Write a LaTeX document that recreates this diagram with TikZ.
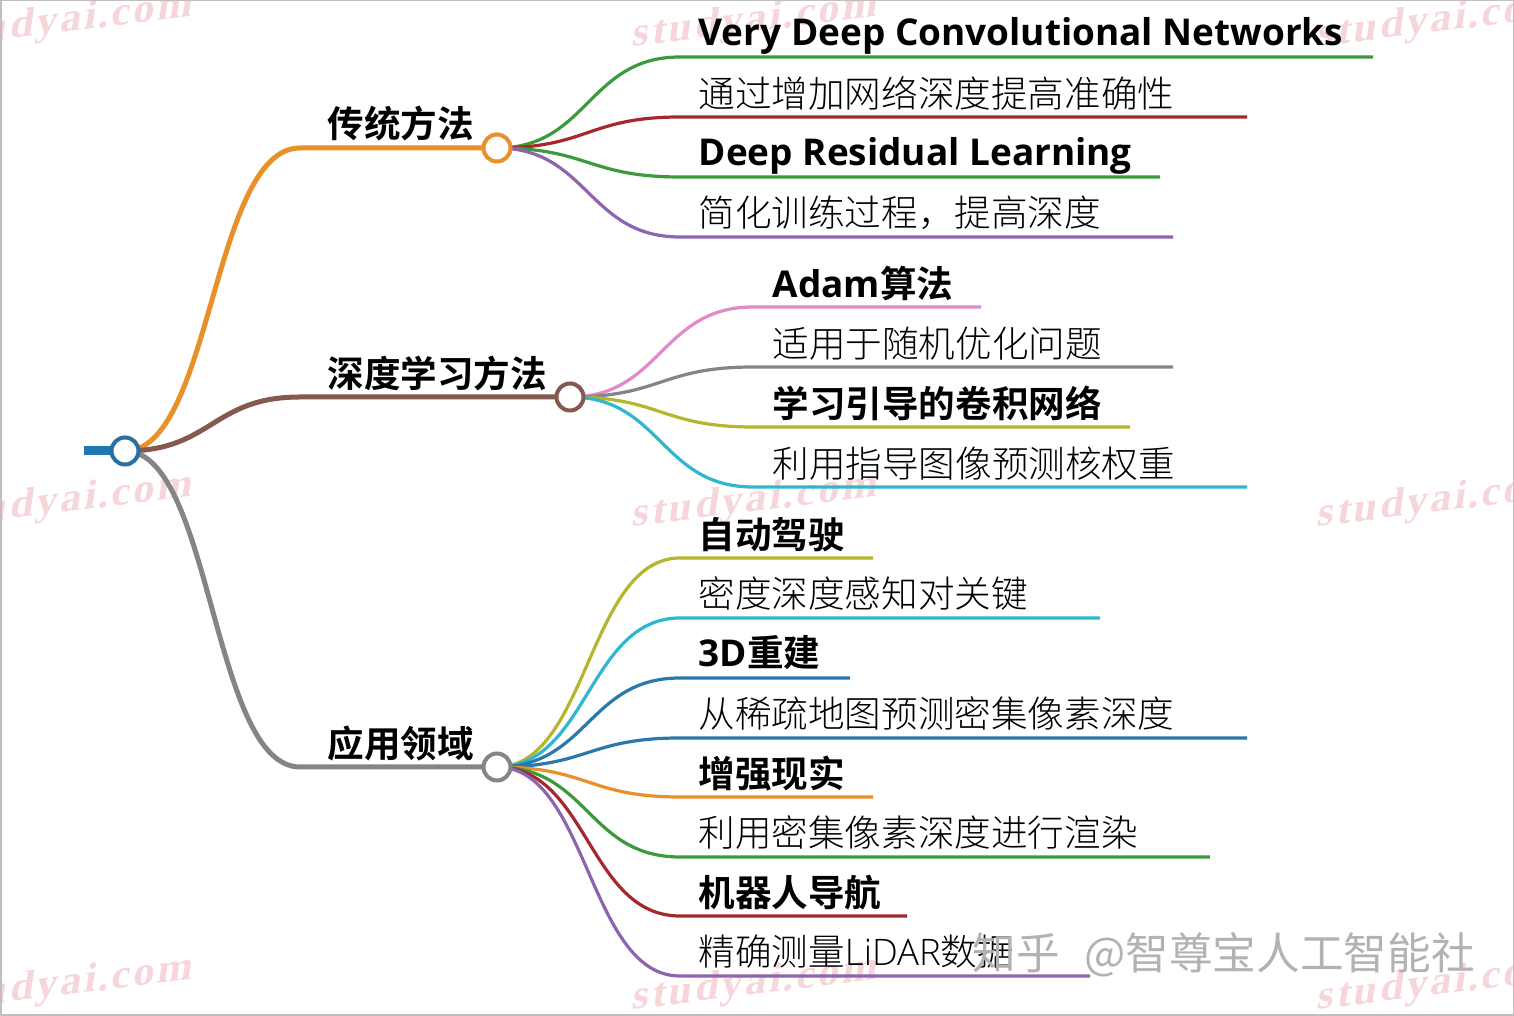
\documentclass[tikz,border=0pt]{standalone}
\usepackage{fontspec}
\setmainfont{Open Sans}
\newfontfamily\cjkfont{Noto Sans CJK SC Light}
\newfontfamily\cjkplain{Noto Sans CJK SC}
\newfontfamily\cjkbold{Noto Sans CJK SC Bold}
\newfontfamily\ltnbold{Open Sans}[UprightFont=* Bold,Scale=1.01]
\newfontfamily\ltnlight{Open Sans}[UprightFont=* Light]
\newfontfamily\wmfont{Liberation Serif}[UprightFont=* Bold,FakeSlant=0.28,FakeStretch=1.05,LetterSpace=7]
\definecolor{mapblue}{HTML}{2A78AC}
\definecolor{rootblue}{HTML}{1F77B4}
\definecolor{ringblue}{HTML}{2A6F9F}
\definecolor{maporange}{HTML}{E8912A}
\definecolor{mapbrown}{HTML}{85594F}
\definecolor{mapgray}{HTML}{858585}
\definecolor{mapgreen}{HTML}{3C9A3C}
\definecolor{mapred}{HTML}{A5282E}
\definecolor{mappurple}{HTML}{8C64B0}
\definecolor{mappink}{HTML}{E08AC8}
\definecolor{mapolive}{HTML}{B5B52E}
\definecolor{mapcyan}{HTML}{2FB7CF}
\definecolor{markpink}{HTML}{F6D6D9}
\pgfdeclarelayer{front}
\pgfsetlayers{main,front}
\tikzset{
    hub/.style={circle,draw,fill=white,line width=0.04cm,minimum size=0.27cm,inner sep=0pt},
    branch/.style={line width=0.05cm},
    twig/.style={line width=0.032cm},
    headtext/.style={anchor=base west,inner sep=0pt,font=\fontsize{10.4pt}{12pt}\cjkbold},
    boldtext/.style={anchor=base west,inner sep=0pt,font=\fontsize{10.4pt}{12pt}\cjkbold},
    thintext/.style={anchor=base west,inner sep=0pt,font=\fontsize{10.4pt}{12pt}\cjkfont},
    markstudy/.style={rotate=7,text=markpink,inner sep=0pt,font=\fontsize{11.5pt}{13pt}\wmfont},
}
\begin{document}
\begin{tikzpicture}[x=0.01cm,y=-0.01cm]
    \clip (0,0) rectangle (1514,1016);
    \fill[white] (0,0) rectangle (1514,1016);

    \node[markstudy] (mark1) at (68,22) {studyai.com};
    \node[markstudy] (mark2) at (753,22) {studyai.com};
    \node[markstudy] (mark3) at (1438,22) {studyai.com};
    \node[markstudy] (mark4) at (68,502) {studyai.com};
    \node[markstudy] (mark5) at (753,502) {studyai.com};
    \node[markstudy] (mark6) at (1438,502) {studyai.com};
    \node[markstudy] (mark7) at (68,985) {studyai.com};
    \node[markstudy] (mark8) at (753,985) {studyai.com};
    \node[markstudy] (mark9) at (1438,985) {studyai.com};

    % root and main branches
    \begin{pgfonlayer}{front}
        \node[hub,draw=ringblue] (root) at (125,451) {};
        \node[hub,draw=maporange] (hubA) at (497,148) {};
        \node[hub,draw=mapbrown] (hubB) at (570,397) {};
        \node[hub,draw=mapgray] (hubC) at (497,767) {};
    \end{pgfonlayer}
    \coordinate (rootend) at (84,451);
    \draw[rootblue,line width=0.09cm] (rootend) -- (root.center);

    \coordinate (bendA) at (300,148);
    \draw[branch,maporange] (root.center) .. controls (212,451) and (212,148) .. (bendA) -- (hubA.center);
    \node[headtext] (headA) at (327,138) {传统方法};

    \coordinate (bendB) at (300,397);
    \draw[branch,mapbrown] (root.center) .. controls (212,451) and (212,397) .. (bendB) -- (hubB.center);
    \node[headtext] (headB) at (327,388) {深度学习方法};

    \coordinate (bendC) at (300,767);
    \draw[branch,mapgray] (root.center) .. controls (212,451) and (212,767) .. (bendC) -- (hubC.center);
    \node[headtext] (headC) at (327,758) {应用领域};

    % first group
    \coordinate (a1s) at (680,57);
    \coordinate (a1e) at (1373,57);
    \draw[twig,mapgreen] (hubA.center) .. controls (588,148) and (588,57) .. (a1s) -- (a1e);
    \node[boldtext] (a1) at (698,46) {\ltnbold Very Deep Convolutional Networks};

    \coordinate (a2s) at (680,117);
    \coordinate (a2e) at (1247,117);
    \draw[twig,mapred] (hubA.center) .. controls (588,148) and (588,117) .. (a2s) -- (a2e);
    \node[thintext] (a2) at (698,108) {通过增加网络深度提高准确性};

    \coordinate (a3s) at (680,177);
    \coordinate (a3e) at (1160,177);
    \draw[twig,mapgreen] (hubA.center) .. controls (588,148) and (588,177) .. (a3s) -- (a3e);
    \node[boldtext] (a3) at (698,166) {\ltnbold Deep Residual Learning};

    \coordinate (a4s) at (680,237);
    \coordinate (a4e) at (1173,237);
    \draw[twig,mappurple] (hubA.center) .. controls (588,148) and (588,237) .. (a4s) -- (a4e);
    \node[thintext] (a4) at (698,227) {简化训练过程，提高深度};

    % second group
    \coordinate (b1s) at (753,307);
    \coordinate (b1e) at (981,307);
    \draw[twig,mappink] (hubB.center) .. controls (661,397) and (661,307) .. (b1s) -- (b1e);
    \node[boldtext] (b1) at (772,298) {{\ltnbold Adam}算法};

    \coordinate (b2s) at (753,367);
    \coordinate (b2e) at (1173,367);
    \draw[twig,mapgray] (hubB.center) .. controls (661,397) and (661,367) .. (b2s) -- (b2e);
    \node[thintext] (b2) at (772,358) {适用于随机优化问题};

    \coordinate (b3s) at (753,427);
    \coordinate (b3e) at (1130,427);
    \draw[twig,mapolive] (hubB.center) .. controls (661,397) and (661,427) .. (b3s) -- (b3e);
    \node[boldtext] (b3) at (772,418) {学习引导的卷积网络};

    \coordinate (b4s) at (753,487);
    \coordinate (b4e) at (1247,487);
    \draw[twig,mapcyan] (hubB.center) .. controls (661,397) and (661,487) .. (b4s) -- (b4e);
    \node[thintext] (b4) at (772,478) {利用指导图像预测核权重};

    % third group
    \coordinate (c1s) at (680,558);
    \coordinate (c1e) at (873,558);
    \draw[twig,mapolive] (hubC.center) .. controls (588,767) and (588,558) .. (c1s) -- (c1e);
    \node[boldtext] (c1) at (698,549) {自动驾驶};

    \coordinate (c2s) at (680,618);
    \coordinate (c2e) at (1100,618);
    \draw[twig,mapcyan] (hubC.center) .. controls (588,767) and (588,618) .. (c2s) -- (c2e);
    \node[thintext] (c2) at (698,608) {密度深度感知对关键};

    \coordinate (c3s) at (680,678);
    \coordinate (c3e) at (850,678);
    \draw[twig,mapblue] (hubC.center) .. controls (588,767) and (588,678) .. (c3s) -- (c3e);
    \node[boldtext] (c3) at (698,667) {{\ltnbold 3D}重建};

    \coordinate (c4s) at (680,738);
    \coordinate (c4e) at (1247,738);
    \draw[twig,mapblue] (hubC.center) .. controls (588,767) and (588,738) .. (c4s) -- (c4e);
    \node[thintext] (c4) at (698,728) {从稀疏地图预测密集像素深度};

    \coordinate (c5s) at (680,797);
    \coordinate (c5e) at (873,797);
    \draw[twig,maporange] (hubC.center) .. controls (588,767) and (588,797) .. (c5s) -- (c5e);
    \node[boldtext] (c5) at (698,788) {增强现实};

    \coordinate (c6s) at (680,857);
    \coordinate (c6e) at (1210,857);
    \draw[twig,mapgreen] (hubC.center) .. controls (588,767) and (588,857) .. (c6s) -- (c6e);
    \node[thintext] (c6) at (698,847) {利用密集像素深度进行渲染};

    \coordinate (c7s) at (680,916);
    \coordinate (c7e) at (907,916);
    \draw[twig,mapred] (hubC.center) .. controls (588,767) and (588,916) .. (c7s) -- (c7e);
    \node[boldtext] (c7) at (698,907) {机器人导航};

    \coordinate (c8s) at (680,976);
    \coordinate (c8e) at (1090,976);
    \draw[twig,mappurple] (hubC.center) .. controls (588,767) and (588,976) .. (c8s) -- (c8e);
    \node[thintext] (c8) at (698,966) {精确测量{\ltnlight LiDAR}数据};

    \begin{pgfonlayer}{front}
        \node[anchor=base west,inner sep=0pt,text=gray!60,font=\fontsize{12.4pt}{14pt}\cjkplain] (zhihu) at (972,970) {知乎\hspace{7pt}@智尊宝人工智能社};
        \draw[gray!50,line width=0.03cm] (0,0) rectangle (1514,1016);
    \end{pgfonlayer}
\end{tikzpicture}
\end{document}
